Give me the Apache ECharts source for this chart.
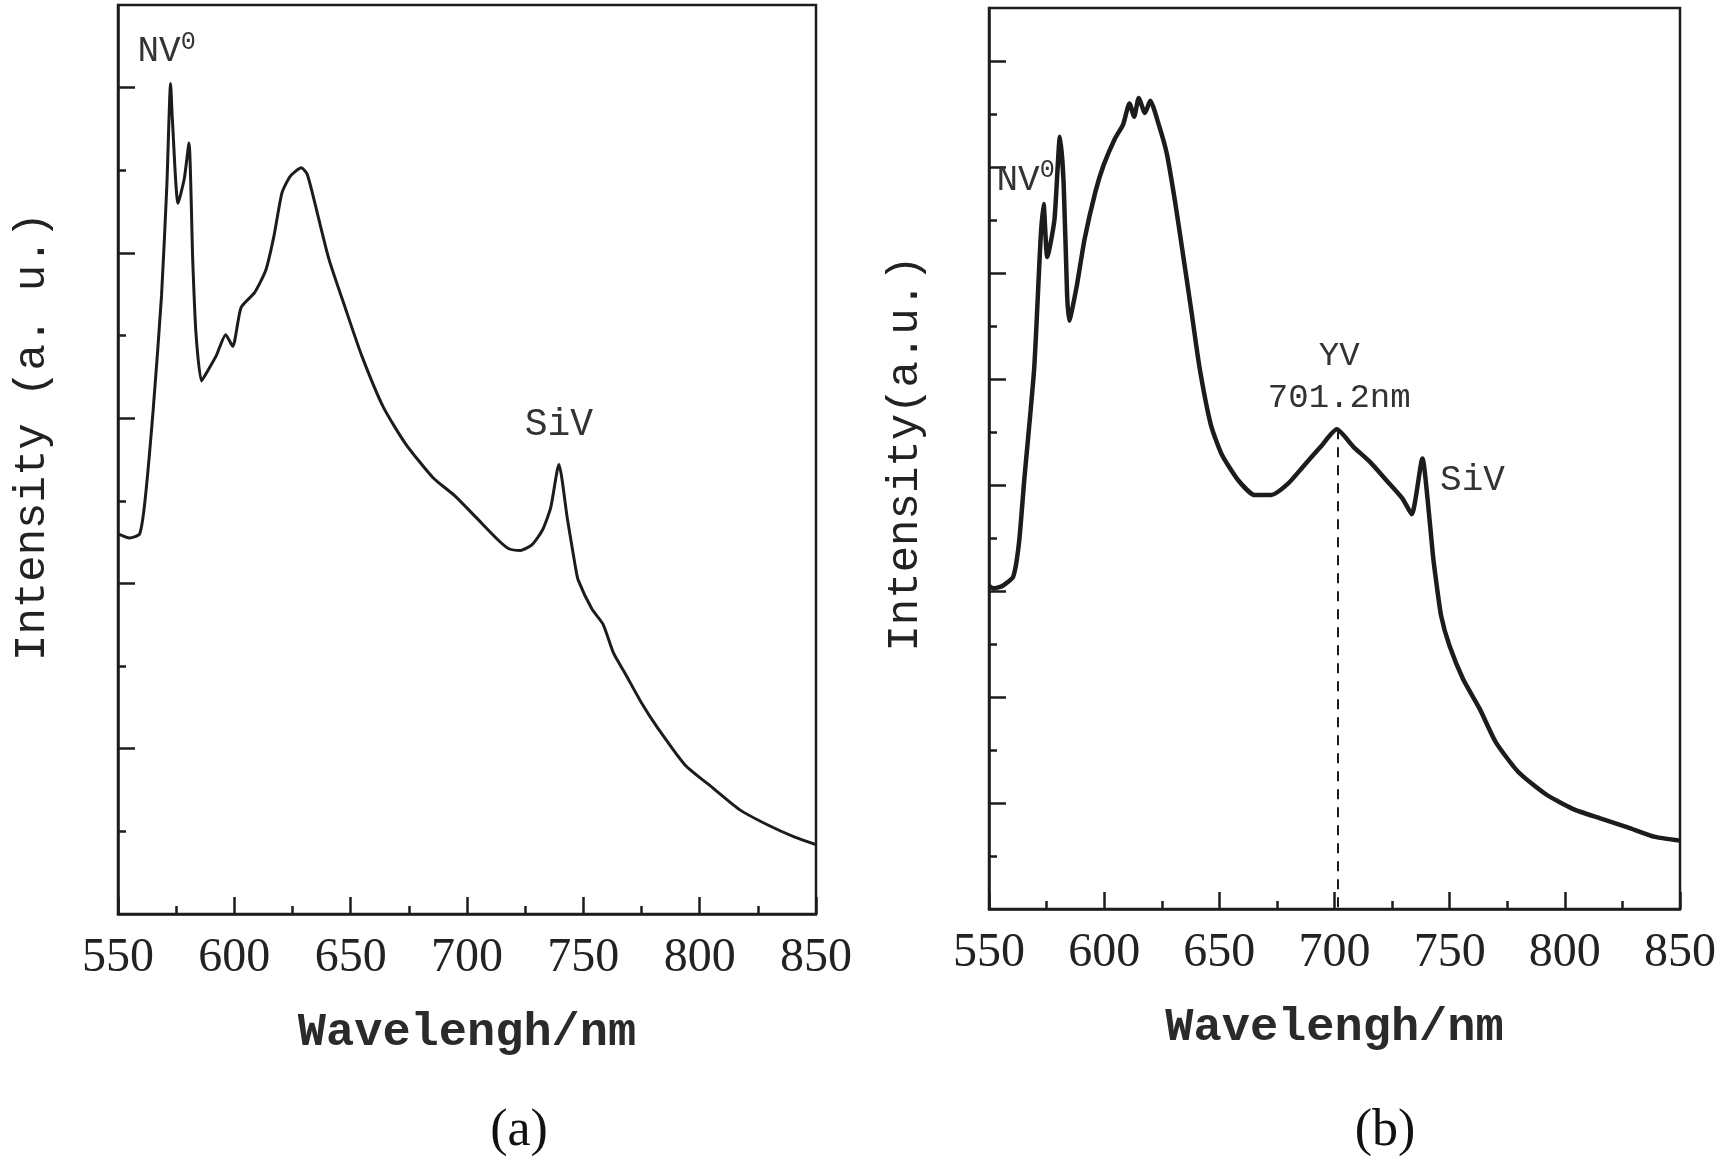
<!DOCTYPE html>
<html lang="en">
<head>
    <meta charset="UTF-8">
    <title>PL spectra</title>
    <script src="https://cdn.jsdelivr.net/npm/echarts@6/dist/echarts.min.js"></script>
    <style>
        html, body { margin: 0; padding: 0; background: #fff; }
    </style>
</head>
<body>
    <div id="main" style="width: 1720px;height:1159px;"></div>
    <script type="text/javascript">
        // (a) wavelength (nm) / intensity (a.u.)
        const waveA = [550, 555, 559.3, 561.6, 565.2, 568.7, 571.0, 572.6, 573.4, 575.8, 578.5, 580.5, 582.1, 583.5, 585.9,
            588.7, 592.3, 596.3, 599.3, 602.9, 608.7, 613.5, 617.0, 620.5, 624.1, 628.8, 631.2, 633.5, 640.6,
            647.6, 654.7, 664.1, 673.6, 685.4, 694.8, 704.2, 713.6, 718, 723.0, 728, 732.5, 736.0, 739.5, 743.1, 746.6,
            747.8, 753.7, 758.4, 763.1, 767.8, 774.9, 782.0, 793.8, 805.5, 817.3, 829.1, 840.9, 850]
        const intA = [4.60, 4.55, 4.60, 5.00, 6.13, 7.48, 8.82, 10.05, 9.6, 8.6, 8.9, 9.33, 7.93, 7.03, 6.45,
            6.58, 6.76, 7.01, 6.87, 7.34, 7.52, 7.79, 8.20, 8.73, 8.93, 9.03, 8.96, 8.73, 7.93,
            7.34, 6.76, 6.13, 5.69, 5.28, 5.06, 4.79, 4.52, 4.42, 4.40, 4.47, 4.65, 4.92, 5.44, 4.79, 4.20,
            4.04, 3.69, 3.51, 3.15, 2.92, 2.56, 2.25, 1.80, 1.53, 1.26, 1.08, 0.93, 0.84]

        // (b)
        const waveB = [550, 552, 556, 560.5, 563, 565.3, 569.6, 572.4, 573.7, 575.3, 578.4, 580.8, 582.4, 583.9, 584.8,
            588, 591.5, 596.3, 599.8, 604.6, 608.2, 611, 613, 615, 617.7, 620, 623.7, 627.2, 630.8, 634.4,
            638, 641.5, 646.3, 651, 658.2, 665.4, 672.5, 679.7, 686.8, 694, 701, 708.2, 715.3, 722.5, 729.6,
            733.5, 738.2, 740.4, 742.7, 744, 746.3, 749.9, 755.8, 763, 770, 779.7, 791.6, 803.4, 815.4,
            827.3, 839.2, 850]
        const intB = [6.10, 6.05, 6.10, 6.27, 6.9, 8.09, 10.19, 12.64, 13.3, 12.3, 13.0, 14.57, 13.7, 11.6, 11.1,
            11.73, 12.64, 13.55, 14.04, 14.53, 14.8, 15.2, 14.95, 15.3, 15.02, 15.25, 14.8, 14.25, 13.34, 12.3,
            11.24, 10.19, 9.14, 8.58, 8.09, 7.81, 7.81, 8.02, 8.37, 8.72, 9.05, 8.72, 8.44, 8.09, 7.74,
            7.45, 8.5, 7.74, 6.69, 6.23, 5.53, 4.97, 4.34, 3.78, 3.15, 2.59, 2.17, 1.89, 1.71,
            1.54, 1.36, 1.29]

        const xTicks = [550, 600, 650, 700, 750, 800, 850]
        const yMaxA = 11
        const yMaxB = 17
        const majorA = [2, 4, 6, 8, 10]
        const minorA = [1, 3, 5, 7, 9]
        const majorB = [2, 4, 6, 8, 10, 12, 14, 16]
        const minorB = [1, 3, 5, 7, 9, 11, 13, 15]
        const yvPeak = [701.2, 9.05]

        const ink = '#1c1c1c'
        const monoFont = "'Liberation Mono', 'DejaVu Sans Mono', 'Noto Sans CJK SC', monospace"
        const serifFont = "'Liberation Serif', serif"

        var myChart = echarts.init(document.getElementById('main'));

        function xAxisOf(grid) {
            return {
                gridIndex: grid,
                type: 'value',
                min: xTicks[0],
                max: xTicks[xTicks.length - 1],
                interval: 50,
                name: 'Wavelengh/nm',
                nameLocation: 'middle',
                nameGap: 96,
                nameTextStyle: { fontFamily: monoFont, fontSize: 47, fontWeight: 'bold', color: '#2a2a2a' },
                axisLine: { show: true, lineStyle: { color: ink, width: 2.5 } },
                axisTick: { inside: true, length: 17, lineStyle: { color: ink, width: 2.5 } },
                minorTick: { show: true, splitNumber: 2, length: 8, lineStyle: { color: ink, width: 2.5 } },
                axisLabel: { fontFamily: serifFont, fontSize: 48, color: '#222', margin: 20 },
                splitLine: { show: false }
            }
        }

        function yAxisOf(grid, max, ticks, len, name, gap, shift) {
            return {
                gridIndex: grid,
                type: 'value',
                position: 'left',
                min: 0,
                max: max,
                name: name,
                nameLocation: 'middle',
                nameRotate: 90,
                nameGap: gap,
                nameTextStyle: { fontFamily: monoFont, fontSize: 44, color: '#222', padding: [0, 0, 0, shift] },
                axisLine: { show: name !== '', lineStyle: { color: ink, width: 2.5 } },
                axisTick: { inside: true, length: len, customValues: ticks, lineStyle: { color: ink, width: 2.5 } },
                axisLabel: { show: false },
                splitLine: { show: false }
            }
        }

        function note(coord, text, offset, size) {
            return {
                coord: coord,
                symbolSize: 0,
                label: {
                    show: true,
                    position: 'inside',
                    offset: offset,
                    formatter: text,
                    fontFamily: monoFont,
                    fontSize: size,
                    lineHeight: size + 8,
                    color: '#333',
                    rich: {
                        sup: { fontFamily: monoFont, fontSize: size * 0.7, color: '#333', verticalAlign: 'top', padding: [0, 0, 16, 0] }
                    }
                }
            }
        }

        var option = {
            animation: false,
            backgroundColor: '#fff',
            title: [
                { text: '(a)', left: 514, top: 1100, textAlign: 'center',
                  textStyle: { fontFamily: serifFont, fontSize: 52, fontWeight: 'normal', color: '#111' } },
                { text: '(b)', left: 1380, top: 1100, textAlign: 'center',
                  textStyle: { fontFamily: serifFont, fontSize: 52, fontWeight: 'normal', color: '#111' } }
            ],
            grid: [
                { left: 118, top: 5, width: 698, height: 909, show: true, borderColor: ink, borderWidth: 2.5 },
                { left: 989, top: 8, width: 691, height: 901, show: true, borderColor: ink, borderWidth: 2.5 }
            ],
            xAxis: [xAxisOf(0), xAxisOf(1)],
            yAxis: [
                yAxisOf(0, yMaxA, majorA, 17, 'Intensity (a. u.)', 64, 46),
                yAxisOf(0, yMaxA, minorA, 8, '', 0, 0),
                yAxisOf(1, yMaxB, majorB, 17, 'Intensity(a.u.)', 62, 10),
                yAxisOf(1, yMaxB, minorB, 8, '', 0, 0)
            ],
            series: [
                {
                    type: 'line',
                    xAxisIndex: 0,
                    yAxisIndex: 0,
                    showSymbol: false,
                    smooth: 0.2,
                    lineStyle: { color: ink, width: 3 },
                    data: waveA.map((w, i) => [w, intA[i]]),
                    markPoint: {
                        symbol: 'circle',
                        data: [
                            note([572.6, 10.05], 'NV{sup|0}', [-4, -32], 36),
                            note([739.5, 5.44], 'SiV', [0, -40], 38)
                        ]
                    }
                },
                {
                    type: 'line',
                    xAxisIndex: 1,
                    yAxisIndex: 2,
                    showSymbol: false,
                    smooth: 0.2,
                    lineStyle: { color: ink, width: 4.5 },
                    data: waveB.map((w, i) => [w, intB[i]]),
                    markPoint: {
                        symbol: 'circle',
                        data: [
                            note([573.7, 13.3], 'NV{sup|0}', [-18, -24], 36),
                            note([738.2, 8.5], 'SiV', [50, 22], 36),
                            note(yvPeak, 'YV\n701.2nm', [2, -52], 34)
                        ]
                    },
                    markLine: {
                        symbol: 'none',
                        silent: true,
                        label: { show: false },
                        lineStyle: { color: ink, width: 2, type: [10, 8] },
                        data: [[{ coord: yvPeak }, { coord: [yvPeak[0], 0] }]]
                    }
                }
            ]
        };

        myChart.setOption(option);
    </script>
</body>
</html>
